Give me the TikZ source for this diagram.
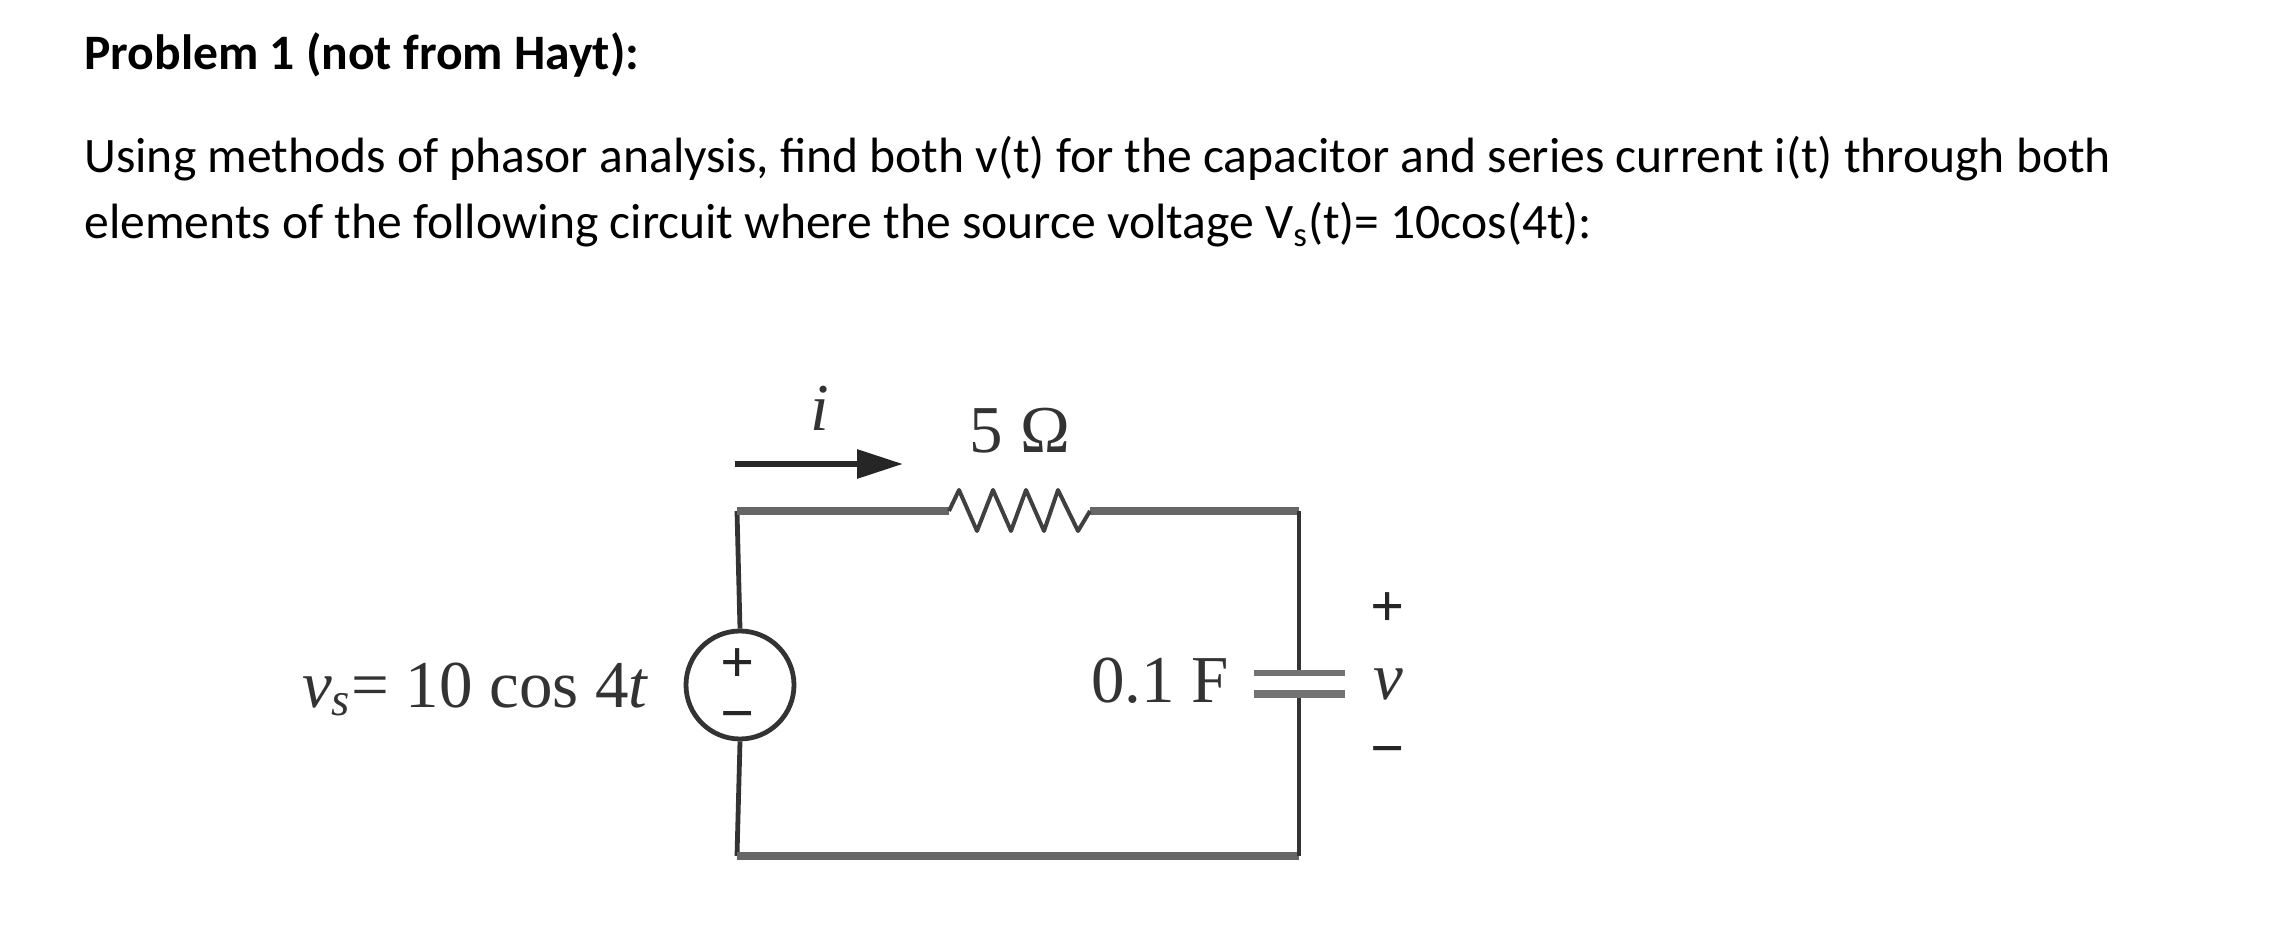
\documentclass[tikz,border=0pt]{standalone}
\usepackage{fontspec}
\setmainfont{Carlito}
\newfontfamily\circuitfont{Liberation Serif}
\usetikzlibrary{arrows.meta}
\tikzset{
	textline/.style={anchor=base west,inner sep=0pt,font=\fontsize{24.8}{30}\selectfont},
	circuitlabel/.style={inner sep=0pt,text=black!80,font=\circuitfont\fontsize{33.5}{40}\selectfont},
	signlabel/.style={inner sep=0pt,text=black!85,font=\circuitfont\bfseries\fontsize{30}{36}\selectfont},
	hwire/.style={line width=3.6pt,black!60},
	vwire/.style={line width=2.4pt,black!80},
	plate/.style={line width=3.6pt,black!55}
}
\begin{document}
\begin{tikzpicture}[x=0.5pt,y=-0.5pt]
	\useasboundingbox (0,0) rectangle (2277,945);
	% problem text
	\node [textline,font=\fontsize{24.8}{30}\selectfont\bfseries] (title) at (84,70) {Problem 1 (not from Hayt):};
	\node [textline] (line1) at (84,173) {Using methods of phasor analysis, find both v(t) for the capacitor and series current i(t) through both};
	\node [textline] (line2) at (84,239) {elements of the following circuit where the source voltage V\textsubscript{s}(t)= 10cos(4t):};
	% circuit
	\node [circle,draw=black!80,line width=2.4pt,minimum size=54pt,inner sep=0pt] (source) at (740,685) {};
	\node [signlabel] (srcplus) at (738,666) {+};
	\node [signlabel] (srcminus) at (738,723) {−};
	\coordinate (tl) at (737,511);
	\coordinate (tr) at (1299,511);
	\coordinate (bl) at (737,856);
	\coordinate (br) at (1299,856);
	\coordinate (resin) at (949,511);
	\coordinate (resout) at (1090,511);
	\coordinate (captop) at (1299,673);
	\coordinate (capbot) at (1299,694);
	\draw [vwire] (source.north) -- (tl);
	\draw [vwire] (source.south) -- (bl);
	\draw [hwire,line cap=square] (tl) -- (resin);
	\draw [hwire,line cap=square] (resout) -- (tr);
	\draw [hwire,line cap=square] (bl) -- (br);
	\draw [vwire] (tr) -- (captop);
	\draw [vwire] (capbot) -- (br);
	\draw [line width=2pt,black!75,line join=round] (resin) -- (959,490) -- (977,531) -- (993,490) -- (1011,531)
		-- (1026,490) -- (1044,531) -- (1058,490) -- (1078,531) -- (resout);
	\draw [plate,line width=3pt] (1254,673) -- (captop) -- (1345,673);
	\draw [plate] (1254,694) -- (capbot) -- (1345,694);
	% current arrow
	\coordinate (arrowstart) at (735,464);
	\coordinate (arrowend) at (903,464);
	\draw [-{Triangle[length=23pt,width=14pt]},line width=3pt,black!85] (arrowstart) -- (arrowend);
	% labels
	\node [circuitlabel] (ilabel) at (820,408) {\itshape i};
	\node [circuitlabel] (rlabel) at (1020,431) {5 Ω};
	\node [circuitlabel] (clabel) at (1160,681) {0.1 F};
	\node [circuitlabel,anchor=base east] (vslabel) at (648,708) {{\itshape v}\textsubscript{\itshape s}= 10 cos 4{\itshape t}};
	\node [signlabel] (vplus) at (1388,610) {+};
	\node [circuitlabel] (vlabel) at (1388,684) {\itshape v};
	\node [signlabel] (vminus) at (1388,758) {−};
\end{tikzpicture}
\end{document}
